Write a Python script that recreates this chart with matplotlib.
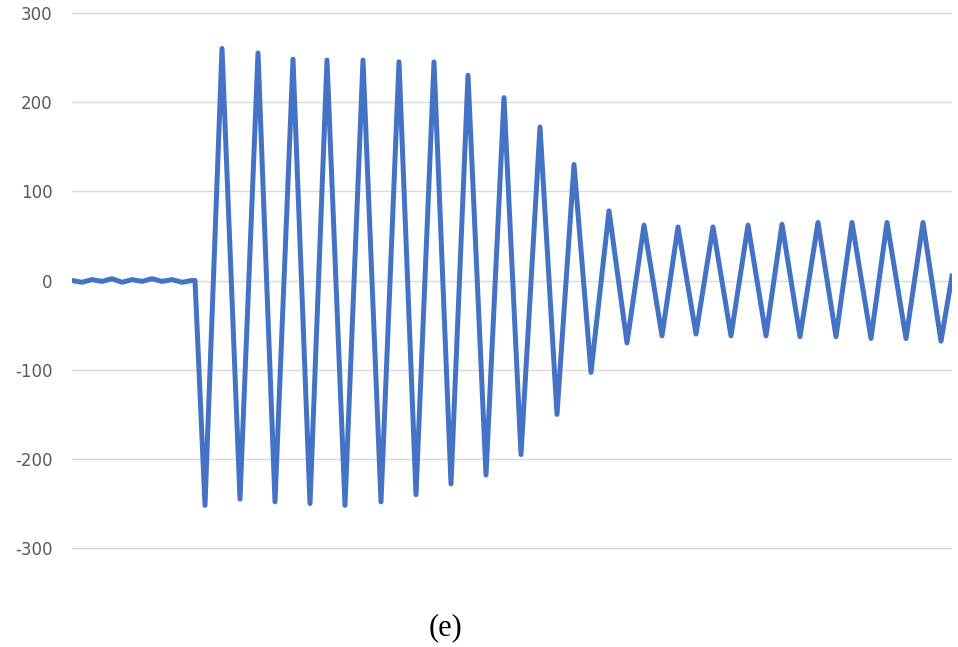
import matplotlib
matplotlib.use("Agg")
import matplotlib.pyplot as plt
plt.rcParams["axes.unicode_minus"] = False

# time (arbitrary units) and signal value at extrema
flat_t = [0, 10, 20, 30, 40, 50, 60, 70, 80, 90, 100, 110, 120, 123]
flat_v = [0, -2, 1, -1, 2, -2, 1, -1, 2, -1, 1, -2, 0, 0]
trough_t = [133, 168, 203, 238, 273, 309, 344, 379, 414, 449, 485, 519, 555, 590, 624, 659, 694, 728, 764, 799, 834, 869]
trough_v = [-252, -245, -248, -250, -252, -248, -240, -228, -218, -195, -150, -103, -70, -62, -60, -62, -62, -63, -63, -65, -65, -68]
peak_t = [150, 186, 221, 255, 291, 327, 362, 396, 432, 468, 502, 537, 572, 606, 641, 676, 710, 746, 780, 815, 851]
peak_v = [260, 255, 248, 247, 247, 245, 245, 230, 205, 172, 130, 78, 62, 60, 60, 62, 63, 65, 65, 65, 65]
end_t, end_v = 880, 5

pts = list(zip(flat_t, flat_v)) + list(zip(trough_t, trough_v)) + list(zip(peak_t, peak_v)) + [(end_t, end_v)]
pts.sort()
t = [p[0] for p in pts]
v = [p[1] for p in pts]

fig = plt.figure(figsize=(9.58, 6.47), dpi=100)
ax = fig.add_axes([72/958, 1-550/647, 880/958, 539/647])
ax.plot(t, v, color="#4472C4", lw=3.6, solid_joinstyle="round")
ax.set_xlim(0, 880)
ax.set_ylim(-302, 302)
ax.set_yticks(range(-300, 301, 100))
ax.set_xticks([])
ax.grid(axis="y", color="#d9d9d9", lw=1)
ax.set_axisbelow(True)
for s in ax.spines.values():
    s.set_visible(False)
ax.tick_params(axis="y", length=0, labelsize=12, labelcolor="#595959", pad=14)
fig.text(446/958, 1-628/647, "(e)", ha="center", va="center", fontsize=22, family="Liberation Serif")
fig.savefig("out.png")
